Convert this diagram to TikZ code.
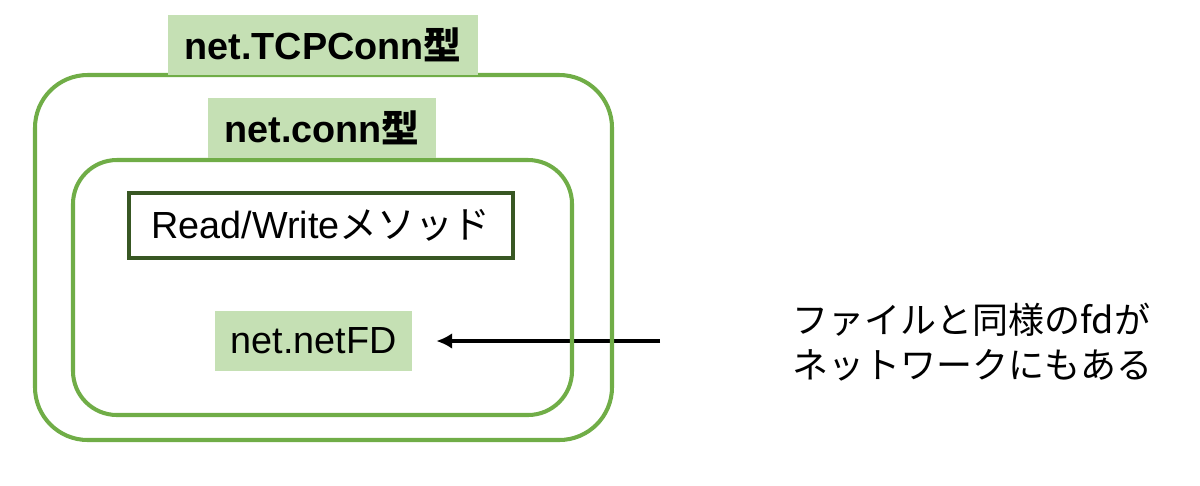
\documentclass[tikz,border=0pt]{standalone}
\usepackage{fontspec}
\usetikzlibrary{arrows.meta,backgrounds}
\setmainfont{Liberation Sans}
\newfontfamily\cjk{Noto Sans CJK JP}
\definecolor{grn}{HTML}{70AD47}
\definecolor{lgrn}{HTML}{C5E0B4}
\definecolor{dgrn}{HTML}{385723}
\begin{document}
\begin{tikzpicture}[x=0.02cm,y=-0.02cm,
  frame/.style={draw=grn,line width=2.3pt},
  label/.style={fill=lgrn,inner sep=0pt,font=\fontsize{21.5}{25}\selectfont\bfseries},
  txt/.style={font=\fontsize{21.5}{25}\selectfont}]
\useasboundingbox (0,0) rectangle (1200,485);
\draw[frame,rounded corners=30pt] (35,75) rectangle (612,440);
\node[label,minimum width=310*0.02cm,minimum height=60*0.02cm] (t1) at (323,45) {net.TCPConn{\cjk 型}};
\draw[frame,rounded corners=25pt] (73,160) rectangle (572,415);
\node[label,minimum width=228*0.02cm,minimum height=60*0.02cm] (t2) at (322,128) {net.conn{\cjk 型}};
\node[draw=dgrn,line width=2.3pt,fill=white,minimum width=384*0.02cm,minimum height=65*0.02cm,inner sep=0pt,txt] (rw) at (321,225.5) {Read/Write{\cjk メソッド}};
\node[fill=lgrn,minimum width=197*0.02cm,minimum height=60*0.02cm,inner sep=0pt,txt] (fd) at (313.5,341) {net.netFD};
\node[anchor=west,align=left,font=\cjk\fontsize{20.5}{25.5}\selectfont] (note) at (786,342) {ファイルと同様のfdが\\ネットワークにもある};
\coordinate (s) at (660,341);
\begin{scope}[on background layer]
\draw[line width=2.2pt,-{Latex[length=9pt,width=9pt]}] (s) -- ([xshift=0.48cm]fd.east);
\end{scope}
\end{tikzpicture}
\end{document}
